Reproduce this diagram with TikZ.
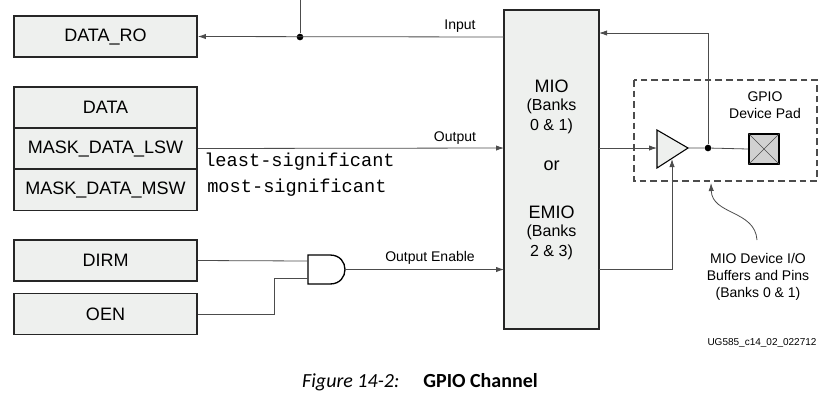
\documentclass[tikz,border=0pt]{standalone}
\usepackage{fontspec}
\setmainfont{Liberation Sans}
\newfontfamily\capfont{Carlito}
\newfontfamily\monofont{Liberation Mono}
\usetikzlibrary{arrows.meta}
\definecolor{boxgray}{HTML}{EEF0EE}
\begin{document}
\begin{tikzpicture}[x=0.75pt,y=-0.75pt,
  reg/.style={draw=black!85,line width=1.4pt,fill=boxgray,minimum width=183*0.75pt,minimum height=41*0.75pt,inner sep=0pt,font=\fontsize{13.5}{15}\selectfont},
  wire/.style={draw=black!70,line width=0.6pt},
  arr/.style={wire,-{Latex[length=6pt,width=4pt]}},
  lbl/.style={font=\fontsize{10.5}{12.5}\selectfont,inner sep=1pt},
  dot/.style={circle,fill=black,inner sep=0pt,minimum size=5pt}]
\useasboundingbox (0,0) rectangle (834,401);
% registers
\node[reg] (ro) at (105.5,36.5) {DATA\_RO};
\node[reg] (data) at (105.5,107.5) {DATA};
\node[reg] (lsw) at (105.5,148.5) {MASK\_DATA\_LSW};
\node[reg] (msw) at (105.5,190) {MASK\_DATA\_MSW};
\node[reg] (dirm) at (105.5,260.5) {DIRM};
\node[reg] (oen) at (105.5,314) {OEN};
\node[anchor=west,inner sep=0pt,font=\monofont\fontsize{14}{16}\selectfont] at (204,162) {least-significant};
\node[anchor=west,inner sep=0pt,font=\monofont\fontsize{14}{16}\selectfont] at (207,188) {most-significant};
% MIO block
\node[draw=black!85,line width=1.2pt,fill=boxgray,minimum width=95*0.75pt,minimum height=319*0.75pt,inner sep=0pt] (mio) at (551.5,169.5) {};
\node[align=center,font=\fontsize{13.5}{15}\selectfont] at (551.5,107) {MIO\\[-2pt]{\fontsize{12}{14}\selectfont (Banks}\\{\fontsize{12}{14}\selectfont 0 \& 1)}};
\node[font=\fontsize{13.5}{15}\selectfont] at (551.5,166) {or};
\node[align=center,font=\fontsize{13.5}{15}\selectfont] at (551.5,233) {EMIO\\[-2pt]{\fontsize{12}{14}\selectfont (Banks}\\{\fontsize{12}{14}\selectfont 2 \& 3)}};
% input path
\coordinate (mioin) at (504,37);
\coordinate (top) at (300,0);
\node[dot] (d1) at (300,37) {};
\draw[arr] (mioin) -- (ro.east);
\draw[wire] (top) -- (d1);
\node[lbl] at (460,26) {Input};
% output
\coordinate (mioout) at (504,148);
\draw[arr] (lsw.east) -- (mioout);
\node[lbl] at (455,138) {Output};
% AND gate
\draw[line width=1pt,fill=white] (308,255) -- (330,255) .. controls (350,255) and (350,284) .. (330,284) -- (308,284) -- cycle;
\coordinate (gin1) at (308,261);
\coordinate (gin2) at (308,278);
\coordinate (gout) at (345,269.5);
\draw[wire] (dirm.east) -- (gin1);
\draw[wire] (oen.east) -- (274,314) -- (274,278) -- (gin2);
\coordinate (mioen) at (504,269.5);
\draw[arr] (gout) -- (mioen);
\node[lbl] at (430,258) {Output Enable};
% pad region
\draw[black!70,line width=0.8pt,dash pattern=on 5pt off 3pt] (634,80) rectangle (817,181);
\draw[line width=0.8pt,fill=boxgray] (657,130) -- (688,148) -- (657,168) -- cycle;
\coordinate (bufin) at (657,148);
\coordinate (bufen) at (672,159);
\node[dot] (d2) at (708,148) {};
\node[draw,line width=1.2pt,fill=black!18,minimum size=30*0.75pt,inner sep=0pt] (pad) at (764,149) {};
\draw[black!70] (pad.north west) -- (pad.south east) (pad.north east) -- (pad.south west);
\node[lbl,align=center] at (765,105) {GPIO\\Device Pad};
\draw[arr] (599,148) -- (bufin);
\draw[wire] (688,148) -- (d2) -- (pad.west);
\draw[arr] (d2) -- (708,33) -- (599,33);
\draw[arr] (599,269.5) -- (672,269.5) -- (bufen);
% annotation
\node[lbl,align=center] (note) at (758,277) {MIO Device I/O\\Buffers and Pins\\(Banks 0 \& 1)};
\coordinate (boxb) at (711,183);
\draw[arr] (757,240) .. controls (755,210) and (712,215) .. (boxb);
\node[font=\fontsize{7.5}{8}\selectfont] at (762,343) {UG585\_c14\_02\_022712};
\node[font=\capfont\fontsize{15}{17}\selectfont] at (420,382) {\textit{Figure 14-2:}\hspace{1.2em}\textbf{GPIO Channel}};
\end{tikzpicture}
\end{document}
